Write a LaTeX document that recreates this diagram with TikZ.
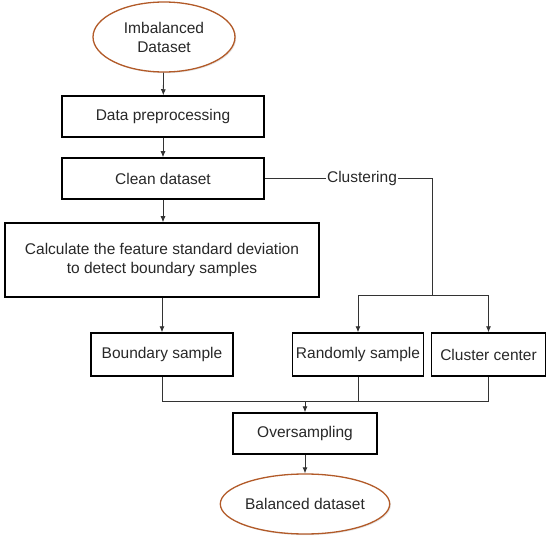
\documentclass[tikz,border=0pt]{standalone}
\usepackage{fontspec}
\setmainfont{Liberation Sans}
\usetikzlibrary{arrows.meta,shadows,shapes.geometric}
\definecolor{ellcol}{RGB}{178,90,40}
\definecolor{txt}{RGB}{40,40,40}
\tikzset{
  x=1pt,y=-1pt,
  every node/.style={font=\fontsize{15.5}{19}\selectfont, text=txt},
  procbox/.style={draw=black, line width=1.5pt, inner sep=0pt, align=center, fill=white},
  term/.style={draw=ellcol, line width=1.3pt, ellipse, inner sep=0pt, align=center, fill=white,
    drop shadow={opacity=0.2, shadow xshift=1.2pt, shadow yshift=-1.2pt}},
  conn/.style={draw=black!80, line width=0.8pt},
  arr/.style={conn, -{Latex[length=6pt,width=5pt]}}
}
\begin{document}
\begin{tikzpicture}
\useasboundingbox (0,0) rectangle (550,543);
\node[term, minimum width=142pt, minimum height=70pt] (id) at (164,37) {Imbalanced\\Dataset};
\node[procbox, minimum width=202pt, minimum height=41pt] (dp) at (163,116.5) {Data preprocessing};
\node[procbox, minimum width=202pt, minimum height=41pt] (cd) at (163,178.5) {Clean dataset};
\node[procbox, minimum width=314pt, minimum height=74pt] (calc) at (162,260) {Calculate the feature standard deviation\\to detect boundary samples};
\node[procbox, minimum width=142pt, minimum height=43pt] (bs) at (162,354.5) {Boundary sample};
\node[procbox, minimum width=131pt, minimum height=43pt] (rs) at (358,354.5) {Randomly sample};
\node[procbox, minimum width=114pt, minimum height=43pt] (cc) at (488.5,354.5) {Cluster center};
\node[procbox, minimum width=144pt, minimum height=41pt] (os) at (305,433.5) {Oversampling};
\node[term, minimum width=156pt, minimum height=60pt] (bd) at (305,504) {Balanced dataset};
\node[inner sep=1pt] (cl) at (362,178.5) {Clustering};
\coordinate (br) at (432,295);
\coordinate (m) at (305,401);

\draw[arr] (id) -- (dp);
\draw[arr] (dp) -- (cd);
\draw[arr] (cd) -- (calc.north -| cd);
\draw[arr] (calc.south -| bs) -- (bs);
\draw[conn] (cd.east) -- (cl.west);
\draw[conn] (cl.east) -| (br);
\draw[arr] (br) -| (rs.north);
\draw[arr] (br) -| (cc.north);
\draw[conn] (bs.south) |- (cc.south |- m) -- (cc.south);
\draw[conn] (rs.south) -- (rs.south |- m);
\draw[arr] (m) -- (os.north);
\draw[arr] (os) -- (bd);
\end{tikzpicture}
\end{document}
